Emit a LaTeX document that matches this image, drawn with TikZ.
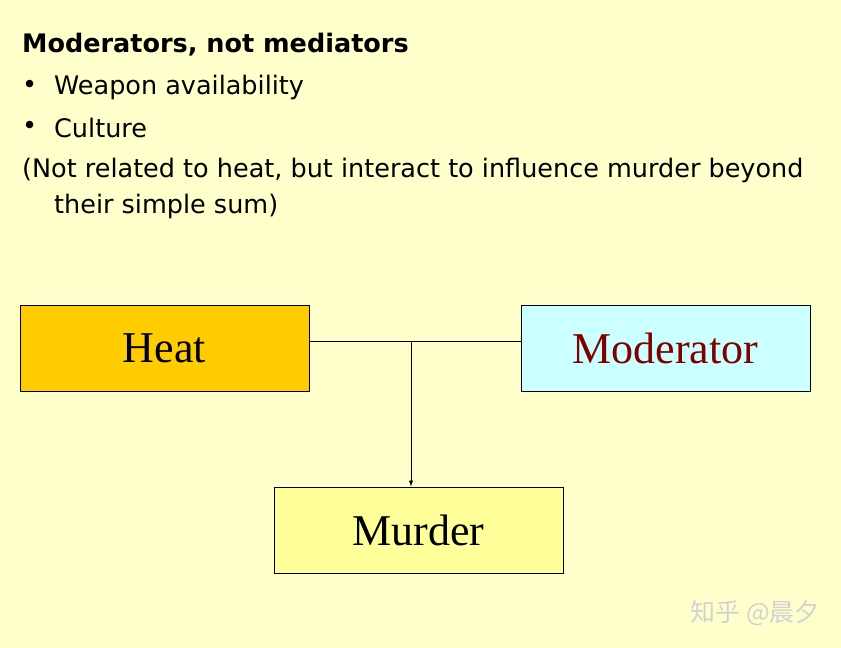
\documentclass[tikz,border=0pt]{standalone}
\usepackage{fontspec}
\setsansfont{DejaVu Sans}
\setmainfont{Liberation Serif}
\newfontfamily\cjk{Noto Sans CJK SC}
\usetikzlibrary{arrows.meta}
\definecolor{bg}{HTML}{FFFFCC}
\definecolor{heatc}{HTML}{FFCC00}
\definecolor{modc}{HTML}{CCFFFF}
\definecolor{murc}{HTML}{FFFF99}
\definecolor{dred}{HTML}{800000}
\begin{document}
\begin{tikzpicture}[x=1pt,y=-1pt,
  boxst/.style={draw=black,line width=0.6pt,minimum width=289pt,minimum height=86pt,font=\rmfamily\fontsize{44}{48}\selectfont,inner sep=0pt},
  txt/.style={anchor=west,font=\sffamily\fontsize{25.5}{30}\selectfont,inner sep=0pt}]
\fill[bg] (0,0) rectangle (841,648);
\useasboundingbox (0,0) rectangle (841,648);
\node[txt,font=\sffamily\bfseries\fontsize{25.5}{30}\selectfont] (h) at (22,45) {Moderators, not mediators};
\node[txt] (b1d) at (22,87) {•};
\node[txt] (b1) at (54,87) {Weapon availability};
\node[txt] (b2d) at (22,128) {•};
\node[txt] (b2) at (54,128) {Culture};
\node[txt] (p1) at (22,170) {(Not related to heat, but interact to influence murder beyond};
\node[txt] (p2) at (54,206) {their simple sum)};
\node[boxst,fill=heatc] (heat) at (164.5,348.5) {Heat};
\node[boxst,fill=modc,text=dred] (mod) at (665.5,348.5) {Moderator};
\node[boxst,fill=murc] (mur) at (418.5,530) {Murder};
\draw[line width=0.6pt] (heat.east|-0,341) coordinate (hl) -- (mod.west|-0,341);
\coordinate (j) at (411,341);
\draw[line width=0.6pt,-{Latex[length=6pt,width=4pt]}] (j) -- (j|-mur.north);
\node[anchor=east,font=\cjk\fontsize{25}{28}\selectfont,text=gray!35,inner sep=0pt] (wm) at (820,613) {知乎 @晨夕};
\end{tikzpicture}
\end{document}
